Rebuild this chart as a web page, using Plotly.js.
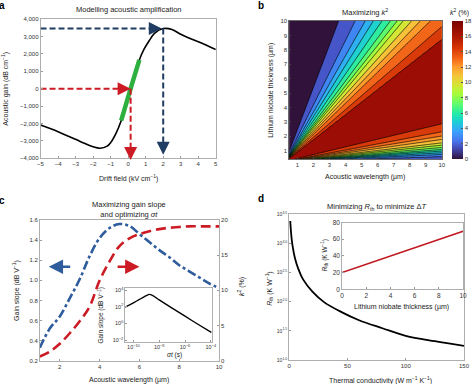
<!DOCTYPE html>
<html><head><meta charset="utf-8">
<script src="https://cdn.plot.ly/plotly-3.0.1.min.js"></script>
<style>html,body{margin:0;padding:0;background:#fff}#chart{width:474px;height:384px}</style>
</head><body><div id="chart"></div>
<script>
// ---------- Panel a: acoustic gain vs drift field ----------
const driftField   = [-5, -4, -3, -2.5, -2, -1.6, -1.2, -1, -0.7, -0.4, -0.2, 0, 0.2, 0.4, 0.64, 0.9, 1.2, 1.5, 2, 2.5, 3, 3.5, 4, 4.5, 5];
const acousticGain = [-2090, -2470, -2910, -3140, -3340, -3420, -3300, -3100, -2580, -1840, -1160, -480, 200, 860, 1650, 2250, 2750, 3180, 3450, 3400, 3120, 2900, 2700, 2480, 2250];
const linearRange  = [-0.4, 0.64];   // green highlighted segment (kV/cm)
const gainFloor    = -4000;

// ---------- Panel b: k^2 (%) profile vs thickness/wavelength ratio ----------
const ratioProfile = [0.02, 0.035, 0.05, 0.062, 0.074, 0.085, 0.0995, 0.116, 0.132, 0.157, 0.181, 0.211, 0.267, 0.4, 0.6, 0.87, 0.96, 1.08, 1.16, 1.24, 1.33, 1.40, 1.49, 1.62, 1.78, 1.96, 2.24, 2.94, 3.6, 5, 30];
const k2Profile    = [2.0, 2.77, 4.15, 5.54, 6.92, 8.31, 9.69, 11.08, 12.46, 13.85, 15.23, 16.62, 18.0, 18.7, 18.8, 18.0, 16.62, 15.23, 13.85, 12.46, 11.08, 9.69, 8.31, 6.92, 5.54, 4.15, 2.77, 1.38, 0.6, 0.3, 0.1];
const wavelengthRangeB = [0.48, 10];
const thicknessRangeB  = [0.42, 10];
const fanOrigin = 0.25;
const k2Max = 18, k2Bands = 13;
const k2Ticks = [0, 2, 4, 6, 8, 10, 12, 14, 16, 18];
const bandColors = ['#30123b', '#4656c9', '#3f86f2', '#2fb0f0', '#1fd2d0', '#2eeca0', '#5efa6c', '#a2fb3c',
                    '#d4e635', '#f7c23a', '#fd9a2c', '#f2661a', '#d83a0a', '#9c0d05'];

// ---------- Panel c: gain slope and k^2 vs wavelength ----------
const wavelengthC = [1, 1.5, 2, 2.5, 3, 3.5, 4, 4.5, 5, 5.5, 6, 6.5, 7, 7.5, 8, 8.5, 9, 9.5, 10];
const gainSlopeC  = [0.33, 0.52, 0.64, 0.82, 1.01, 1.24, 1.42, 1.52, 1.56, 1.54, 1.46, 1.38, 1.30, 1.23, 1.15, 1.09, 1.03, 0.97, 0.92];
const k2C         = [0.6, 1.3, 2.4, 3.9, 5.6, 7.7, 11.4, 14.1, 16.3, 17.4, 18.0, 18.4, 18.7, 18.9, 19.0, 19.1, 19.1, 19.1, 19.1];
// inset: gain slope vs sigma*t
const sigmaT         = [2.3e-11, 1e-10, 3.2e-10, 1e-9, 1.7e-9, 3.2e-9, 1e-8, 1e-7, 1e-6, 1e-5, 1.1e-4];
const gainSlopeInset = [85, 290, 800, 2100, 3000, 2100, 650, 68, 7.2, 0.78, 0.082];

// ---------- Panel d: thermal resistance ----------
const conductivity = [1, 2, 3, 5, 8, 12, 20, 30, 45, 60, 80, 100, 125, 150];
const rth          = [2400, 1300, 900, 560, 360, 240, 148, 98, 66, 48, 35, 26, 21, 17.5];
const lnThickness  = [0, 2, 4, 6, 8, 10];
const rthInset     = [20, 30, 40, 50, 60, 69.5];

// ---------- helpers ----------
const W = 474, H = 384;
const fx = p => p / W;
const fy = p => 1 - p / H;
const FONT = 'Liberation Sans, Arial, sans-serif';
const TXT = '#1a1a1a';

// zero crossing and peak of panel a curve from the data
let zeroX = 0;
for (let i = 1; i < driftField.length; i++) {
  if (acousticGain[i - 1] < 0 && acousticGain[i] >= 0) {
    const t = -acousticGain[i - 1] / (acousticGain[i] - acousticGain[i - 1]);
    zeroX = driftField[i - 1] + t * (driftField[i] - driftField[i - 1]);
  }
}
let peakI = 0;
acousticGain.forEach((v, i) => { if (v > acousticGain[peakI]) peakI = i; });
const peakX = driftField[peakI], peakY = acousticGain[peakI];
const greenX = [], greenY = [];
driftField.forEach((v, i) => { if (v >= linearRange[0] && v <= linearRange[1]) { greenX.push(v); greenY.push(acousticGain[i]); } });

// contour grid for panel b
function k2At(r) {
  if (r <= ratioProfile[0]) return k2Profile[0];
  const n = ratioProfile.length;
  if (r >= ratioProfile[n - 1]) return k2Profile[n - 1];
  for (let i = 1; i < n; i++) {
    if (r <= ratioProfile[i]) {
      const a = Math.log(ratioProfile[i - 1]), b = Math.log(ratioProfile[i]);
      const t = (Math.log(r) - a) / (b - a);
      return k2Profile[i - 1] + t * (k2Profile[i] - k2Profile[i - 1]);
    }
  }
}
const NG = 180;
const lamGrid = [], thkGrid = [];
for (let i = 0; i <= NG; i++) {
  lamGrid.push(wavelengthRangeB[0] + (wavelengthRangeB[1] - wavelengthRangeB[0]) * i / NG);
  thkGrid.push(thicknessRangeB[0] + (thicknessRangeB[1] - thicknessRangeB[0]) * i / NG);
}
const zGrid = thkGrid.map(h => lamGrid.map(l => k2At((h - fanOrigin) / (l - fanOrigin))));

// stepped colour scale: one colour per contour band (band k sampled at k/13), dark red above top level
const bandStep = k2Max / k2Bands;
const stepScale = [];
for (let k = 0; k < k2Bands; k++) {
  stepScale.push([k / k2Bands, bandColors[k]]);
  stepScale.push([(k + 1) / k2Bands - 1e-4, bandColors[k]]);
}
stepScale.push([1, bandColors[k2Bands]]);
// smooth scale for the colour bar
const turbo = [
  [0.0, '#30123b'], [0.07, '#4145ab'], [0.13, '#4675ed'], [0.2, '#39a2fc'], [0.27, '#1bcfd4'],
  [0.33, '#24eca6'], [0.4, '#61fc6c'], [0.47, '#a4fc3b'], [0.53, '#d1e834'], [0.6, '#f3c63a'],
  [0.67, '#fe9b2d'], [0.73, '#f36315'], [0.8, '#d93806'], [0.88, '#b11901'], [1.0, '#7a0402']
];

const RED = '#cc1b24', BLUE_A = '#1f3c63', BLUE_C = '#2e5c9c', GREEN = '#2eb03f';

const traces = [
  // a
  {x: driftField, y: acousticGain, xaxis: 'x', yaxis: 'y', mode: 'lines', line: {color: '#000', width: 1.6, shape: 'spline'}},
  {x: greenX, y: greenY, xaxis: 'x', yaxis: 'y', mode: 'lines', line: {color: GREEN, width: 4.5, shape: 'spline'}},
  {x: [driftField[0], zeroX - 0.3], y: [0, 0], xaxis: 'x', yaxis: 'y', mode: 'lines', line: {color: RED, width: 2, dash: '6px,3px'}},
  {x: [zeroX, zeroX], y: [0, gainFloor + 400], xaxis: 'x', yaxis: 'y', mode: 'lines', line: {color: RED, width: 2, dash: '6px,3px'}},
  {x: [driftField[0], peakX - 0.3], y: [peakY, peakY], xaxis: 'x', yaxis: 'y', mode: 'lines', line: {color: BLUE_A, width: 2, dash: '6px,3px'}},
  {x: [peakX, peakX], y: [peakY, gainFloor + 600], xaxis: 'x', yaxis: 'y', mode: 'lines', line: {color: BLUE_A, width: 2, dash: '6px,3px'}},
  // b
  {type: 'contour', x: lamGrid, y: thkGrid, z: zGrid, xaxis: 'x2', yaxis: 'y2',
   colorscale: stepScale, autocontour: false, showscale: false,
   contours: {start: bandStep, end: k2Max, size: bandStep, coloring: 'fill', showlines: true},
   line: {color: '#000', width: 0.7, smoothing: 0.8}},
  // colour bar carrier (invisible marker)
  {x: [wavelengthRangeB[0]], y: [thicknessRangeB[0]], xaxis: 'x2', yaxis: 'y2', mode: 'markers', hoverinfo: 'skip',
   marker: {color: [0], cmin: 0, cmax: k2Max, colorscale: turbo, size: 1, opacity: 0, showscale: true,
     colorbar: {x: fx(453.7), xanchor: 'left', y: fy(159), yanchor: 'bottom', len: 138 / H, lenmode: 'fraction',
              thickness: 11, thicknessmode: 'pixels', outlinewidth: 0, tickvals: k2Ticks, ticks: 'inside', ticklen: 2,
              tickcolor: '#555', tickfont: {size: 6, color: '#333', family: FONT}, xpad: 0, ypad: 0}}},
  // c
  {x: wavelengthC, y: gainSlopeC, xaxis: 'x3', yaxis: 'y3', mode: 'lines', line: {color: BLUE_C, width: 2.6, dash: 'dashdot', shape: 'spline'}},
  {x: wavelengthC, y: k2C, xaxis: 'x3', yaxis: 'y4', mode: 'lines', line: {color: RED, width: 2.6, dash: '10px,5px', shape: 'spline'}},
  {x: sigmaT, y: gainSlopeInset, xaxis: 'x5', yaxis: 'y5', mode: 'lines', line: {color: '#000', width: 1.4, shape: 'spline', smoothing: 0.6}},
  // d
  {x: conductivity, y: rth, xaxis: 'x6', yaxis: 'y6', mode: 'lines', line: {color: '#000', width: 1.8, shape: 'spline'}},
  {x: lnThickness, y: rthInset, xaxis: 'x7', yaxis: 'y7', mode: 'lines', line: {color: '#c0161e', width: 1.5}}
];

const axBase = {showgrid: false, zeroline: false, showline: true, linecolor: '#9a9a9a', linewidth: 0.8, mirror: true,
  ticks: 'inside', ticklen: 2, tickcolor: '#9a9a9a', tickfont: {size: 6, color: '#333', family: FONT}, fixedrange: true};
const ax = o => Object.assign({}, axBase, o);

const T = (text, x, y, o) => Object.assign({text, x: fx(x), y: fy(y), xref: 'paper', yref: 'paper', showarrow: false,
  xanchor: 'center', yanchor: 'middle', font: {size: 7, color: TXT, family: FONT}}, o || {});
const arrow = (xr, yr, x, y, axv, ayv, color, w, s) => ({xref: xr, yref: yr, axref: xr, ayref: yr, x, y, ax: axv, ay: ayv,
  text: '', showarrow: true, arrowhead: 2, arrowsize: s || 1.3, arrowwidth: w, arrowcolor: color});

const annotations = [
  T('<b>a</b>', 2, 5, {font: {size: 10, color: '#000', family: FONT}}),
  T('<b>b</b>', 262, 5, {font: {size: 10, color: '#000', family: FONT}}),
  T('<b>c</b>', 2, 200, {font: {size: 10, color: '#000', family: FONT}}),
  T('<b>d</b>', 262, 198, {font: {size: 10, color: '#000', family: FONT}}),
  T('Modelling acoustic amplification', 128.7, 10, {font: {size: 7.5, color: TXT, family: FONT}}),
  T('Drift field (kV cm<sup>−1</sup>)', 128.7, 178),
  T('Acoustic gain (dB cm<sup>−1</sup>)', 6, 88.7, {textangle: -90}),
  T('Maximizing <i>k</i><sup>2</sup>', 367, 12, {font: {size: 7.5, color: TXT, family: FONT}}),
  T('Acoustic wavelength (µm)', 367, 177),
  T('Lithium niobate thickness (µm)', 272, 90, {textangle: -90}),
  T('<i>k</i><sup>2</sup> (%)', 461, 12),
  T('Maximizing gain slope<br>and optimizing <i>σt</i>', 130, 209, {font: {size: 7.5, color: TXT, family: FONT}}),
  T('Acoustic wavelength (µm)', 130, 380),
  T('Gain slope (dB V<sup>−1</sup>)', 16, 290, {textangle: -90}),
  T('<i>k</i><sup>2</sup> (%)', 242, 286, {textangle: -90}),
  T('Gain slope (dB V<sup>−1</sup>)', 101, 315, {textangle: -90, font: {size: 6.5, color: TXT, family: FONT}}),
  T('<i>σt</i> (s)', 175, 355, {font: {size: 6.5, color: TXT, family: FONT}}),
  T('Minimizing <i>R</i><sub>th</sub> to minimize Δ<i>T</i>', 379, 206.5, {font: {size: 7.5, color: TXT, family: FONT}}),
  T('Thermal conductivity (W m<sup>−1</sup> K<sup>−1</sup>)', 382, 380),
  T('<i>R</i><sub>th</sub> (K W<sup>−1</sup>)', 270, 288, {textangle: -90}),
  T('Lithium niobate thickness (µm)', 403, 307),
  T('<i>R</i><sub>th</sub> (K W<sup>−1</sup>)', 325.5, 255, {textangle: -90, font: {size: 6.5, color: TXT, family: FONT}}),
  // arrowheads panel a
  arrow('x', 'y', zeroX, 0, zeroX - 0.4, 0, RED, 2),
  arrow('x', 'y', zeroX, gainFloor - 100, zeroX, gainFloor + 600, RED, 2),
  arrow('x', 'y', peakX - 0.08, peakY, peakX - 0.5, peakY, BLUE_A, 2),
  arrow('x', 'y', peakX, gainFloor + 200, peakX, gainFloor + 900, BLUE_A, 2),
  // direction arrows panel c
  arrow('x3', 'y3', 1.45, 1.135, 2.6, 1.135, BLUE_C, 2.6, 1.1),
  arrow('x3', 'y3', 6.0, 1.135, 4.83, 1.135, RED, 2.6, 1.1)
];

const layout = {
  width: W, height: H, margin: {l: 0, r: 0, t: 0, b: 0}, showlegend: false,
  paper_bgcolor: '#fff', plot_bgcolor: 'rgba(0,0,0,0)', font: {family: FONT, size: 7, color: TXT},
  xaxis:  ax({domain: [fx(40.7), fx(216.7)], range: [-5, 5], dtick: 1, anchor: 'y'}),
  yaxis:  ax({domain: [fy(158.3), fy(19)], range: [-4000, 4000], dtick: 1000, tickformat: ',', anchor: 'x'}),
  xaxis2: ax({domain: [fx(290.3), fx(443.7)], range: wavelengthRangeB, tickvals: [1,2,3,4,5,6,7,8,9,10], anchor: 'y2', linecolor: '#444', tickcolor: '#444'}),
  yaxis2: ax({domain: [fy(159), fy(21)], range: thicknessRangeB, tickvals: [1,2,3,4,5,6,7,8,9,10], anchor: 'x2', linecolor: '#444', tickcolor: '#444'}),
  xaxis3: ax({domain: [fx(40), fx(220)], range: [1, 10], tickvals: [2, 4, 6, 8, 10], anchor: 'y3'}),
  yaxis3: ax({domain: [fy(360.7), fy(220)], range: [0.2, 1.6], dtick: 0.2, tickformat: '.1f', anchor: 'x3', mirror: false}),
  yaxis4: ax({overlaying: 'y3', side: 'right', range: [0, 20], dtick: 5, anchor: 'x3', mirror: false}),
  xaxis5: ax({domain: [fx(125.7), fx(213)], type: 'log', range: [-10.64, -3.9], tickvals: [1e-10, 1e-8, 1e-6, 1e-4],
              ticktext: ['10<sup>−10</sup>', '10<sup>−8</sup>', '10<sup>−6</sup>', '10<sup>−4</sup>'], anchor: 'y5', tickfont: {size: 5.5, color: '#333', family: FONT}}),
  yaxis5: ax({domain: [fy(342), fy(288)], type: 'log', range: [-2.24, 4.24], tickvals: [1e-2, 1, 1e2, 1e4],
              ticktext: ['10<sup>−2</sup>', '10<sup>0</sup>', '10<sup>2</sup>', '10<sup>4</sup>'], anchor: 'x5', tickfont: {size: 5.5, color: '#333', family: FONT}}),
  xaxis6: ax({domain: [fx(290.3), fx(466)], range: [0, 150], tickvals: [0, 50, 100, 150], anchor: 'y6'}),
  yaxis6: ax({domain: [fy(360), fy(214)], type: 'log', range: [1, 3.5],
              tickvals: [10, Math.pow(10, 1.5), 100, Math.pow(10, 2.5), 1000, Math.pow(10, 3.5)],
              ticktext: ['10<sup>1.0</sup>', '10<sup>1.5</sup>', '10<sup>2.0</sup>', '10<sup>2.5</sup>', '10<sup>3.0</sup>', '10<sup>3.5</sup>'],
              anchor: 'x6', tickfont: {size: 5, color: '#333', family: FONT}}),
  xaxis7: ax({domain: [fx(343.5), fx(465)], range: [0, 10], dtick: 2, anchor: 'y7', tickfont: {size: 6.5, color: '#333', family: FONT}}),
  yaxis7: ax({domain: [fy(289.3), fy(222.5)], range: [0, 80], dtick: 20, anchor: 'x7', tickfont: {size: 6.5, color: '#333', family: FONT}}),
  annotations
};

Plotly.newPlot('chart', traces, layout, {staticPlot: true, displayModeBar: false});
</script></body></html>
